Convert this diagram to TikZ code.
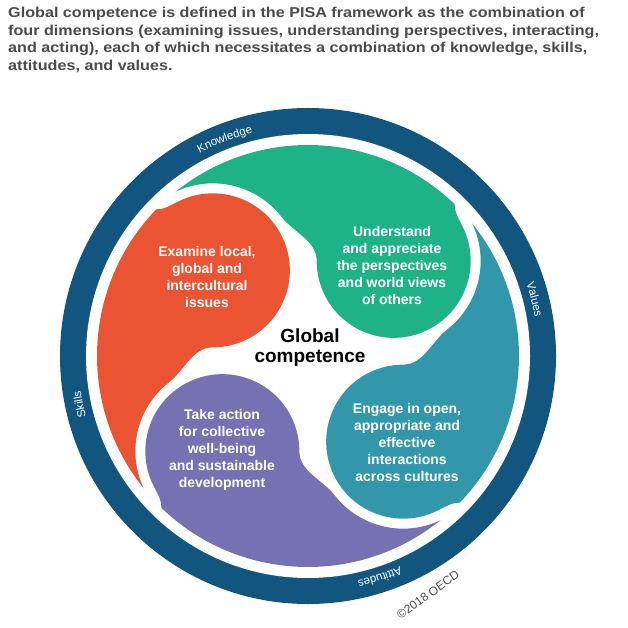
\documentclass[tikz,border=0pt]{standalone}
\usepackage{fontspec}
\setmainfont{Liberation Sans}
\usetikzlibrary{decorations.text}
\definecolor{ringc}{HTML}{12557F}
\definecolor{redc}{HTML}{EA5432}
\definecolor{greenc}{HTML}{1EB387}
\definecolor{tealc}{HTML}{3397AB}
\definecolor{purplec}{HTML}{7571B2}
\definecolor{titlec}{HTML}{4A4A4A}
\begin{document}
\begin{tikzpicture}[x=1pt,y=1pt,
  lobetext/.style={text=white,font=\bfseries\fontsize{14}{17}\selectfont,align=center},
  ringtext/.style={decorate,decoration={text along path,text align=center,text color=white,
     text={|\fontsize{11.5}{13}\selectfont|#1}}}]
\useasboundingbox (0,0) rectangle (628,627);
\coordinate (O) at (308,271);
\node[anchor=north west,inner sep=0,align=left,text=titlec,xscale=1.13,font=\bfseries\fontsize{14.3}{17.6}\selectfont] (title) at (8,620)
 {Global competence is defined in the PISA framework as the combination of\\four dimensions (examining issues, understanding perspectives, interacting,\\and acting), each of which necessitates a combination of knowledge, skills,\\attitudes, and values.};
\fill[ringc] (O) circle (248);
\fill[white] (O) circle (222);
\foreach \ang/\col in {48/greenc,138/redc,228/purplec,318/tealc}{
 \begin{scope}[shift={(O)},rotate=\ang]
  \fill[\col] (33.4,208.3) arc[start angle=80.9,end angle=-2,radius=211]
    .. controls (205,-12) and (203,-20) .. (200.4,-26.3)
    arc[start angle=-20,end angle=-228,radius=77]
    .. controls (91.5,70.6) and (82.2,93.2) .. (85.7,112.9)
    arc[start angle=-10,end angle=67.4,radius=87] -- cycle;
 \end{scope}}
\node[lobetext] (red) at (207,350) {Examine local,\\global and\\intercultural\\issues};
\node[lobetext] (green) at (392,362) {Understand\\and appreciate\\the perspectives\\and world views\\of others};
\node[lobetext] (teal) at (407,185) {Engage in open,\\appropriate and\\effective\\interactions\\across cultures};
\node[lobetext] (purple) at (222,177) {Take action\\for collective\\well-being\\and sustainable\\development};
\node[font=\bfseries\fontsize{19}{20}\selectfont,align=center] (gc) at (310,279) {Global\\competence};
\path[ringtext=Knowledge] ([shift={(140:230)}]O) arc[start angle=140,end angle=82,radius=230];
\path[ringtext=Values] ([shift={(43:230)}]O) arc[start angle=43,end angle=-15,radius=230];
\path[ringtext=Attitudes] ([shift={(-43:230)}]O) arc[start angle=-43,end angle=-101,radius=230];
\path[ringtext=Skills] ([shift={(221:230)}]O) arc[start angle=221,end angle=163,radius=230];
\node[rotate=36,text=titlec,font=\fontsize{12}{13}\selectfont] (copy) at (428,32) {©2018 OECD};
\end{tikzpicture}
\end{document}
